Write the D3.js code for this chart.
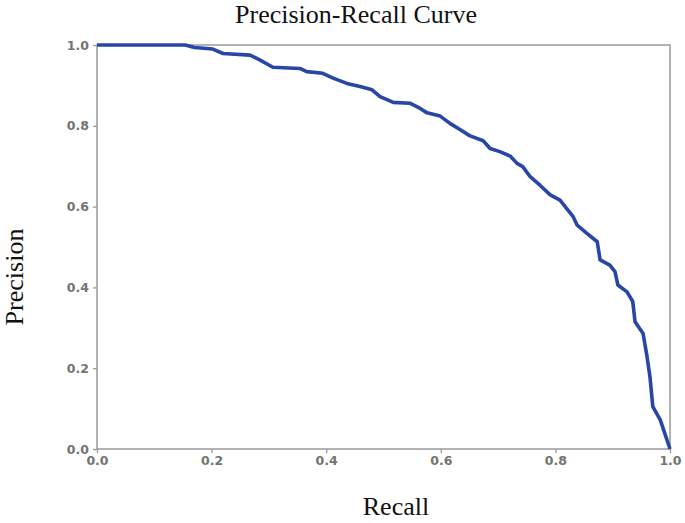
<!DOCTYPE html>
<html>
<head>
<meta charset="utf-8">
<script src="https://cdn.jsdelivr.net/npm/d3@7"></script>
<style>
  body { margin: 0; background: #fff; }
</style>
</head>
<body>
<svg id="chart"></svg>
<script>
// values
const recall = [0.000, 0.154, 0.170, 0.202, 0.220, 0.267, 0.284, 0.307, 0.354, 0.366,
  0.394, 0.412, 0.436, 0.459, 0.480, 0.494, 0.517, 0.546, 0.564, 0.576,
  0.599, 0.616, 0.634, 0.651, 0.674, 0.686, 0.703, 0.721, 0.733, 0.743,
  0.756, 0.773, 0.791, 0.808, 0.817, 0.831, 0.838, 0.855, 0.873, 0.878,
  0.895, 0.904, 0.909, 0.925, 0.935, 0.939, 0.953, 0.960, 0.965, 0.970,
  0.983, 1.000];
const precision = [1.000, 1.000, 0.994, 0.990, 0.979, 0.975, 0.963, 0.945, 0.942, 0.934,
  0.930, 0.918, 0.905, 0.897, 0.889, 0.872, 0.858, 0.856, 0.843, 0.832,
  0.824, 0.806, 0.790, 0.775, 0.763, 0.744, 0.736, 0.725, 0.707, 0.699,
  0.674, 0.653, 0.629, 0.616, 0.600, 0.575, 0.554, 0.534, 0.513, 0.468,
  0.455, 0.439, 0.406, 0.389, 0.365, 0.315, 0.286, 0.228, 0.179, 0.105,
  0.072, 0.000];
const tickValues = [0.0, 0.2, 0.4, 0.6, 0.8, 1.0];

const svgWidth = 685;
const svgHeight = 523;
const margin = { top: 45, right: 15, bottom: 74, left: 97 };
const width = svgWidth - margin.left - margin.right;
const height = svgHeight - margin.top - margin.bottom;

const svg = d3.select("#chart")
    .attr("width", svgWidth)
    .attr("height", svgHeight);

const g = svg.append("g")
    .attr("transform", `translate(${margin.left},${margin.top})`);

const x = d3.scaleLinear().domain([0, 1]).range([0, width]);
const y = d3.scaleLinear().domain([0, 1]).range([height, 0]);

const axisColor = "#9a9a9a";

const xAxis = g.append("g")
    .attr("transform", `translate(0,${height})`)
    .call(d3.axisBottom(x).tickValues(tickValues).tickFormat(d3.format(".1f")).tickSize(4).tickPadding(3));

const yAxis = g.append("g")
    .call(d3.axisLeft(y).tickValues(tickValues).tickFormat(d3.format(".1f")).tickSize(4).tickPadding(4));

[xAxis, yAxis].forEach(a => {
    a.select(".domain").remove();
    a.selectAll("line").attr("stroke", axisColor).attr("stroke-width", 1.3);
    a.selectAll("text")
        .attr("fill", "#737373")
        .style("font-family", "DejaVu Sans")
        .style("font-size", "12.5px")
        .style("font-weight", "bold");
});

// frame
g.append("rect")
    .attr("x", 0)
    .attr("y", 0)
    .attr("width", width)
    .attr("height", height)
    .attr("fill", "none")
    .attr("stroke", axisColor)
    .attr("stroke-width", 1.5);

const line = d3.line()
    .x((d, i) => x(recall[i]))
    .y(d => y(d));

g.append("path")
    .datum(precision)
    .attr("d", line)
    .attr("fill", "none")
    .attr("stroke", "#2846a6")
    .attr("stroke-width", 3.6)
    .attr("stroke-linejoin", "round");

const serif = "'Liberation Serif', 'Times New Roman', serif";

svg.append("text")
    .attr("x", 356)
    .attr("y", 23)
    .attr("text-anchor", "middle")
    .style("font-family", serif)
    .style("font-size", "26px")
    .attr("fill", "#111")
    .text("Precision-Recall Curve");

svg.append("text")
    .attr("x", 396)
    .attr("y", 515)
    .attr("text-anchor", "middle")
    .style("font-family", serif)
    .style("font-size", "26px")
    .attr("fill", "#111")
    .text("Recall");

svg.append("text")
    .attr("transform", "translate(23,277) rotate(-90)")
    .attr("text-anchor", "middle")
    .style("font-family", serif)
    .style("font-size", "26px")
    .attr("fill", "#111")
    .text("Precision");
</script>
</body>
</html>
